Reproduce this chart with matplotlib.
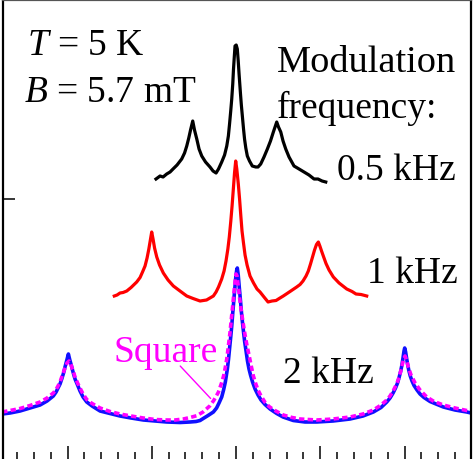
import matplotlib
matplotlib.use("Agg")
import matplotlib.pyplot as plt
from matplotlib.ticker import FixedLocator, MultipleLocator

plt.rcParams['font.family'] = ['Liberation Serif', 'DejaVu Serif']
plt.rcParams['mathtext.fontset'] = 'custom'
plt.rcParams['mathtext.rm'] = 'Liberation Serif'
plt.rcParams['mathtext.it'] = 'Liberation Serif:italic'

# frequency offset (kHz) and signal (arb. units, curves vertically offset)
black_x = [-0.950, -0.902, -0.866, -0.823, -0.783, -0.748, -0.700, -0.645, -0.611, -0.585,
           -0.561, -0.540, -0.514, -0.493, -0.466, -0.439, -0.407, -0.362, -0.309, -0.273,
           -0.237, -0.208, -0.170, -0.136, -0.110, -0.091, -0.077, -0.063, -0.051, -0.039,
           -0.030, -0.020, -0.012, 0.002, 0.015, 0.026, 0.036, 0.053, 0.063, 0.075,
           0.089, 0.101, 0.116, 0.134, 0.160, 0.193, 0.234, 0.261, 0.293, 0.332,
           0.372, 0.409, 0.443, 0.463, 0.483, 0.504, 0.531, 0.558, 0.590, 0.629,
           0.688, 0.748, 0.807, 0.866, 0.926, 0.973, 1.021, 1.065]
black_y = [280, 283, 282, 285, 287, 290, 294, 300, 306, 313,
           321, 329, 338, 329, 320, 310, 303, 297, 292, 288,
           286, 290, 297, 304, 313, 323, 335, 348, 360, 375,
           390, 403, 413, 414, 410, 398, 385, 365, 354, 343,
           330, 320, 311, 303, 298, 293, 292, 292, 295, 302,
           310, 318, 327, 332, 337, 332, 327, 318, 310, 302,
           293, 290, 287, 284, 280, 280, 278, 277]

red_x = [-1.445, -1.412, -1.377, -1.341, -1.297, -1.246, -1.179, -1.139, -1.110, -1.080,
         -1.056, -1.035, -1.017, -1.001, -0.985, -0.967, -0.941, -0.908, -0.863, -0.807,
         -0.744, -0.665, -0.585, -0.510, -0.427, -0.350, -0.269, -0.237, -0.208, -0.170,
         -0.142, -0.119, -0.097, -0.080, -0.062, -0.047, -0.032, -0.018, -0.004, 0.009,
         0.027, 0.042, 0.057, 0.071, 0.087, 0.107, 0.131, 0.166, 0.208, 0.249,
         0.285, 0.332, 0.380, 0.427, 0.475, 0.522, 0.561, 0.641, 0.720, 0.760,
         0.795, 0.831, 0.858, 0.884, 0.908, 0.932, 0.955, 0.977, 0.995, 1.015,
         1.036, 1.068, 1.104, 1.155, 1.223, 1.314, 1.377, 1.424, 1.484, 1.551]
red_y = [163, 164, 166, 166.5, 168, 171.5, 177, 181.5, 187, 193,
         201, 210, 219, 227, 220, 211, 202, 194, 186, 179,
         173, 168, 163, 160.5, 158, 159, 163, 167, 172, 180,
         188, 198, 210, 222, 238, 253, 270, 286, 298, 290,
         275, 260, 243, 228, 217, 204, 194, 183, 176, 170,
         167, 162, 157, 158, 158.5, 161, 163, 167.5, 172, 174.5,
         178, 183, 188, 195, 202, 209, 214.5, 217, 213, 208,
         203, 195.5, 189, 182, 176, 170, 167.5, 165, 164.5, 163]

blue_x = [-2.777, -2.682, -2.564, -2.445, -2.326, -2.243, -2.169, -2.136, -2.113, -2.089,
          -2.069, -2.047, -2.030, -2.008, -1.990, -1.973, -1.953, -1.935, -1.911, -1.881,
          -1.852, -1.816, -1.772, -1.709, -1.614, -1.496, -1.377, -1.246, -1.100, -0.961,
          -0.823, -0.665, -0.546, -0.475, -0.427, -0.380, -0.332, -0.269, -0.231, -0.202,
          -0.170, -0.148, -0.127, -0.103, -0.089, -0.075, -0.062, -0.051, -0.039, -0.027,
          -0.015, -0.004, 0.008, 0.015, 0.026, 0.038, 0.051, 0.065, 0.077, 0.089,
          0.103, 0.119, 0.136, 0.154, 0.172, 0.196, 0.226, 0.261, 0.297, 0.344,
          0.404, 0.483, 0.558, 0.680, 0.819, 0.958, 1.151, 1.353, 1.507, 1.630,
          1.721, 1.789, 1.828, 1.864, 1.893, 1.917, 1.937, 1.955, 1.969, 1.982,
          1.994, 2.002, 2.013, 2.024, 2.036, 2.050, 2.068, 2.089, 2.113, 2.148,
          2.184, 2.231, 2.303, 2.374, 2.461, 2.599, 2.738, 2.789]
blue_y = [45, 46, 48, 51, 54, 58, 63, 67, 71, 75,
          80, 86, 92, 99, 105, 99, 93, 87, 80, 74,
          68, 62, 57, 53, 48, 45.5, 43, 41, 39, 38,
          37, 36.5, 37, 37.5, 38.5, 41, 43.5, 47, 51, 56,
          62, 69, 77, 90, 100, 112, 123, 133, 146, 158,
          170, 181, 189, 191, 184, 172, 160, 146, 136, 127,
          117, 108, 98, 90, 84, 77, 70, 64, 59, 54.5,
          50, 45.5, 42, 38.5, 37, 37, 38, 40, 43, 47,
          51.5, 57, 61, 66, 71, 76, 82, 88, 94, 101,
          108, 111, 107, 101, 95, 89, 83, 78, 73.5, 69,
          65, 61.5, 57.5, 55, 52, 49, 47, 46]

square_x = [-2.777, -2.682, -2.564, -2.445, -2.326, -2.243, -2.169, -2.136, -2.113, -2.089,
            -2.069, -2.047, -2.030, -2.006, -1.982, -1.964, -1.947, -1.929, -1.911, -1.881,
            -1.852, -1.816, -1.772, -1.709, -1.614, -1.496, -1.377, -1.246, -1.100, -0.961,
            -0.823, -0.724, -0.626, -0.546, -0.466, -0.392, -0.309, -0.261, -0.210, -0.172,
            -0.148, -0.131, -0.110, -0.091, -0.071, -0.056, -0.039, -0.024, -0.012, 0.000,
            0.012, 0.030, 0.044, 0.059, 0.077, 0.107, 0.131, 0.154, 0.178, 0.205,
            0.231, 0.261, 0.297, 0.344, 0.392, 0.451, 0.561, 0.665, 0.760, 0.958,
            1.151, 1.353, 1.507, 1.630, 1.721, 1.789, 1.828, 1.864, 1.907, 1.937,
            1.967, 1.986, 2.006, 2.024, 2.045, 2.077, 2.125, 2.184, 2.264, 2.350,
            2.461, 2.599, 2.738, 2.789]
square_y = [47, 48.5, 50.5, 53.5, 57, 61, 66, 69.5, 73, 77,
            82, 87, 91, 96, 98, 96, 91, 87, 82, 76,
            71, 65, 59.5, 55.5, 51, 47.5, 45, 43, 41, 39.5,
            39, 39, 40, 41.5, 43.3, 47, 53.3, 59, 66.7, 76,
            83, 90, 100, 113, 127, 140, 154, 167, 177, 185,
            183, 170, 160, 150, 140, 124, 113, 104, 94, 83.3,
            76, 69, 63, 56.7, 52.5, 49, 44, 41.5, 40, 39,
            40, 42, 45, 49, 54, 59, 63, 68, 75, 82,
            92, 99, 103, 99, 92, 84, 76, 69, 62, 57.5,
            54, 51, 48.5, 48]

fig = plt.figure(figsize=(4.74, 4.60), dpi=100)
ax = fig.add_axes([2.5 / 474, 0.0, (471 - 2.5) / 474, 1 - 1.0 / 460])

ax.plot(black_x, black_y, color='black', lw=2.3, solid_joinstyle='round')
ax.plot(red_x, red_y, color='#ff0000', lw=2.3, solid_joinstyle='round')
ax.plot(blue_x, blue_y, color='#1010ff', lw=2.6, solid_joinstyle='round')
ax.plot(square_x, square_y, color='#ff00ff', lw=2.6, ls=(0, (1.5, 0.9)))

ax.set_xlim(-2.772, 2.789)
ax.set_ylim(0, 459)

txt = dict(fontsize=27, va='baseline', ha='left')
ax.text(-2.481, 405, r'$T$ = 5 K', **txt)
ax.text(-2.516, 358.3, r'$B$ = 5.7 mT', **txt)
ax.text(0.49, 388.3, 'Modulation', fontsize=27.6, va='baseline', ha='left')
ax.text(0.49, 342, 'frequency:', **txt)
ax.text(1.202, 280, '0.5 kHz', **txt)
ax.text(1.551, 177.3, '1 kHz', **txt)
ax.text(0.561, 76.7, '2 kHz', **txt)
ax.text(-1.456, 98.3, 'Square', color='#ff00ff', fontsize=27, va='baseline', ha='left')
ax.annotate('', xy=(-0.279, 58.5), xytext=(-0.685, 95),
            arrowprops=dict(arrowstyle='-', color='#ff00ff', lw=1.0))

ax.xaxis.set_major_locator(MultipleLocator(1.0))
ax.xaxis.set_minor_locator(MultipleLocator(0.2))
ax.yaxis.set_major_locator(FixedLocator([260]))
ax.yaxis.set_minor_locator(FixedLocator([]))
ax.tick_params(axis='x', which='major', direction='in', length=9.5, width=1.1,
               labelbottom=False, top=False)
ax.tick_params(axis='x', which='minor', direction='in', length=5, width=1.1, top=False)
ax.tick_params(axis='y', which='major', direction='in', length=8.5, width=1.1,
               labelleft=False, right=False)

ax.spines['bottom'].set_visible(False)
ax.spines['left'].set_linewidth(1.6)
ax.spines['right'].set_linewidth(1.6)
ax.spines['top'].set_linewidth(1.6)
ax.spines['top'].set_color('#555555')

fig.savefig('out.png', dpi=100)
